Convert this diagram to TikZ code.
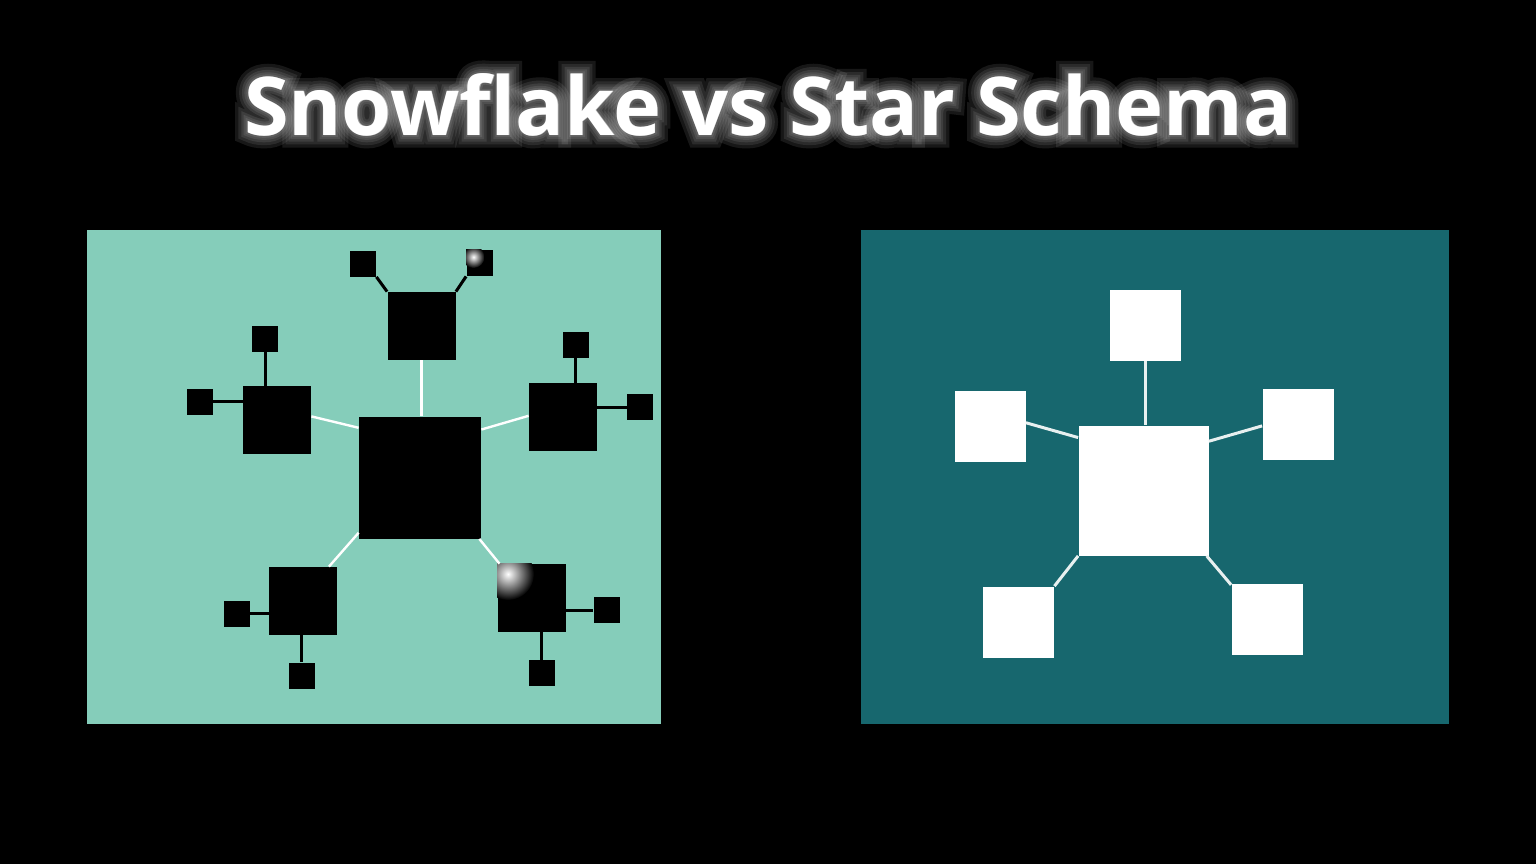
\documentclass[tikz,border=0pt]{standalone}
\usepackage{fontspec}
\setmainfont{Open Sans}
\newfontfamily\glowa{Open Sans}[BoldFeatures={FakeBold=5}]
\newfontfamily\glowb{Open Sans}[BoldFeatures={FakeBold=10}]
\newfontfamily\glowc{Open Sans}[BoldFeatures={FakeBold=16}]
\newfontfamily\glowd{Open Sans}[BoldFeatures={FakeBold=23}]
\newfontfamily\glowe{Open Sans}[BoldFeatures={FakeBold=31}]
\definecolor{snowbg}{RGB}{133,205,186}
\definecolor{starbg}{RGB}{23,103,110}
\newcommand{\titlesize}{\bfseries\fontsize{40.5}{48}\selectfont}
\tikzset{
	sqbig/.style={fill=black,minimum size=61pt,inner sep=0pt},
	sqmid/.style={fill=black,minimum size=34pt,inner sep=0pt},
	sqleaf/.style={fill=black,minimum size=13pt,inner sep=0pt},
	starbig/.style={fill=white,minimum size=65pt,inner sep=0pt},
	starbox/.style={fill=white,minimum size=35.5pt,inner sep=0pt},
	snowlink/.style={draw=white,line width=1.2pt},
	leaflink/.style={draw=black,line width=1.5pt},
	starlink/.style={draw=white!90!starbg,line width=1.5pt},
	titletext/.style={text=white,font=\titlesize,anchor=base,inner sep=0pt},
	glowtext/.style={titletext,opacity=0.09}
}

\begin{document}
\begin{tikzpicture}[x=0.5pt,y=-0.5pt]
	\fill[black] (0,0) rectangle (1536,864);
	\useasboundingbox (0,0) rectangle (1536,864);

	% title with glow
	\node[glowtext,font=\glowe\titlesize] (glowe) at (768,135) {Snowflake vs Star Schema};
	\node[glowtext,font=\glowd\titlesize] (glowd) at (768,135) {Snowflake vs Star Schema};
	\node[glowtext,font=\glowc\titlesize] (glowc) at (768,135) {Snowflake vs Star Schema};
	\node[glowtext,font=\glowb\titlesize] (glowb) at (768,135) {Snowflake vs Star Schema};
	\node[glowtext,font=\glowa\titlesize] (glowa) at (768,135) {Snowflake vs Star Schema};
	\node[titletext] (title) at (768,135) {Snowflake vs Star Schema};

	% snowflake
	\fill[snowbg] (87,230) rectangle (661,724);
	\node[sqbig] (ctr) at (420,477.5) {};
	\node[sqmid] (t) at (421.5,326) {};
	\node[sqmid] (l) at (277,420) {};
	\node[sqmid] (r) at (563,417) {};
	\node[sqmid] (b) at (303,601) {};
	\node[sqmid] (br) at (531.5,598) {};
	\node[sqleaf] (t1) at (363,263.5) {};
	\node[sqleaf] (t2) at (479.5,263) {};
	\node[sqleaf] (l1) at (265,338.5) {};
	\node[sqleaf] (l2) at (200,401.5) {};
	\node[sqleaf] (r1) at (575.5,344.5) {};
	\node[sqleaf] (r2) at (640,407) {};
	\node[sqleaf] (b1) at (236.5,613.5) {};
	\node[sqleaf] (b2) at (301.5,675.5) {};
	\node[sqleaf] (c1) at (606.5,610) {};
	\node[sqleaf] (c2) at (541.5,673) {};

	\begin{scope}
		\clip (br.north west) rectangle (br.south east);
		\shade[inner color=white,outer color=black] (508,574) circle (26);
	\end{scope}
	\begin{scope}
		\clip (t2.north west) rectangle (t2.south east);
		\shade[inner color=white,outer color=black] (473.5,257) circle (11);
	\end{scope}

	\draw[snowlink] (t.south) -- (t.south |- ctr.north);
	\draw[snowlink] (l.6) -- (ctr.141);
	\draw[snowlink] (r.178) -- (ctr.38);
	\draw[snowlink] (b.53) -- (ctr.222);
	\draw[snowlink] (br.133) -- (ctr.314);

	\draw[leaflink] (t1.south east) -- (t.north west);
	\draw[leaflink] (t2.south west) -- (t.north east);
	\draw[leaflink] (l1.south) -- (l1.south |- l.north);
	\draw[leaflink] (l2.east) -- (l2.east -| l.west);
	\draw[leaflink] (r1.south) -- (r1.south |- r.north);
	\draw[leaflink] (r2.west) -- (r2.west -| r.east);
	\draw[leaflink] (b1.east) -- (b1.east -| b.west);
	\draw[leaflink] (b2.north) -- (b2.north |- b.south);
	\draw[leaflink] (c1.west) -- (c1.west -| br.east);
	\draw[leaflink] (c2.north) -- (c2.north |- br.south);

	% star
	\fill[starbg] (861,230) rectangle (1449,724);
	\node[starbig] (sc) at (1143.5,490.5) {};
	\node[starbox] (st) at (1145.5,325.5) {};
	\node[starbox] (sl) at (990,426.5) {};
	\node[starbox] (sr) at (1298,424) {};
	\node[starbox] (sbl) at (1018.5,622) {};
	\node[starbox] (sbr) at (1267,619.5) {};

	\draw[starlink] (st.south) -- (st.south |- sc.north);
	\draw[starlink] (sl.6) -- (sc.141);
	\draw[starlink] (sr.183) -- (sc.37);
	\draw[starlink] (sbl.45) -- (sc.225);
	\draw[starlink] (sbr.136) -- (sc.314);
\end{tikzpicture}
\end{document}
